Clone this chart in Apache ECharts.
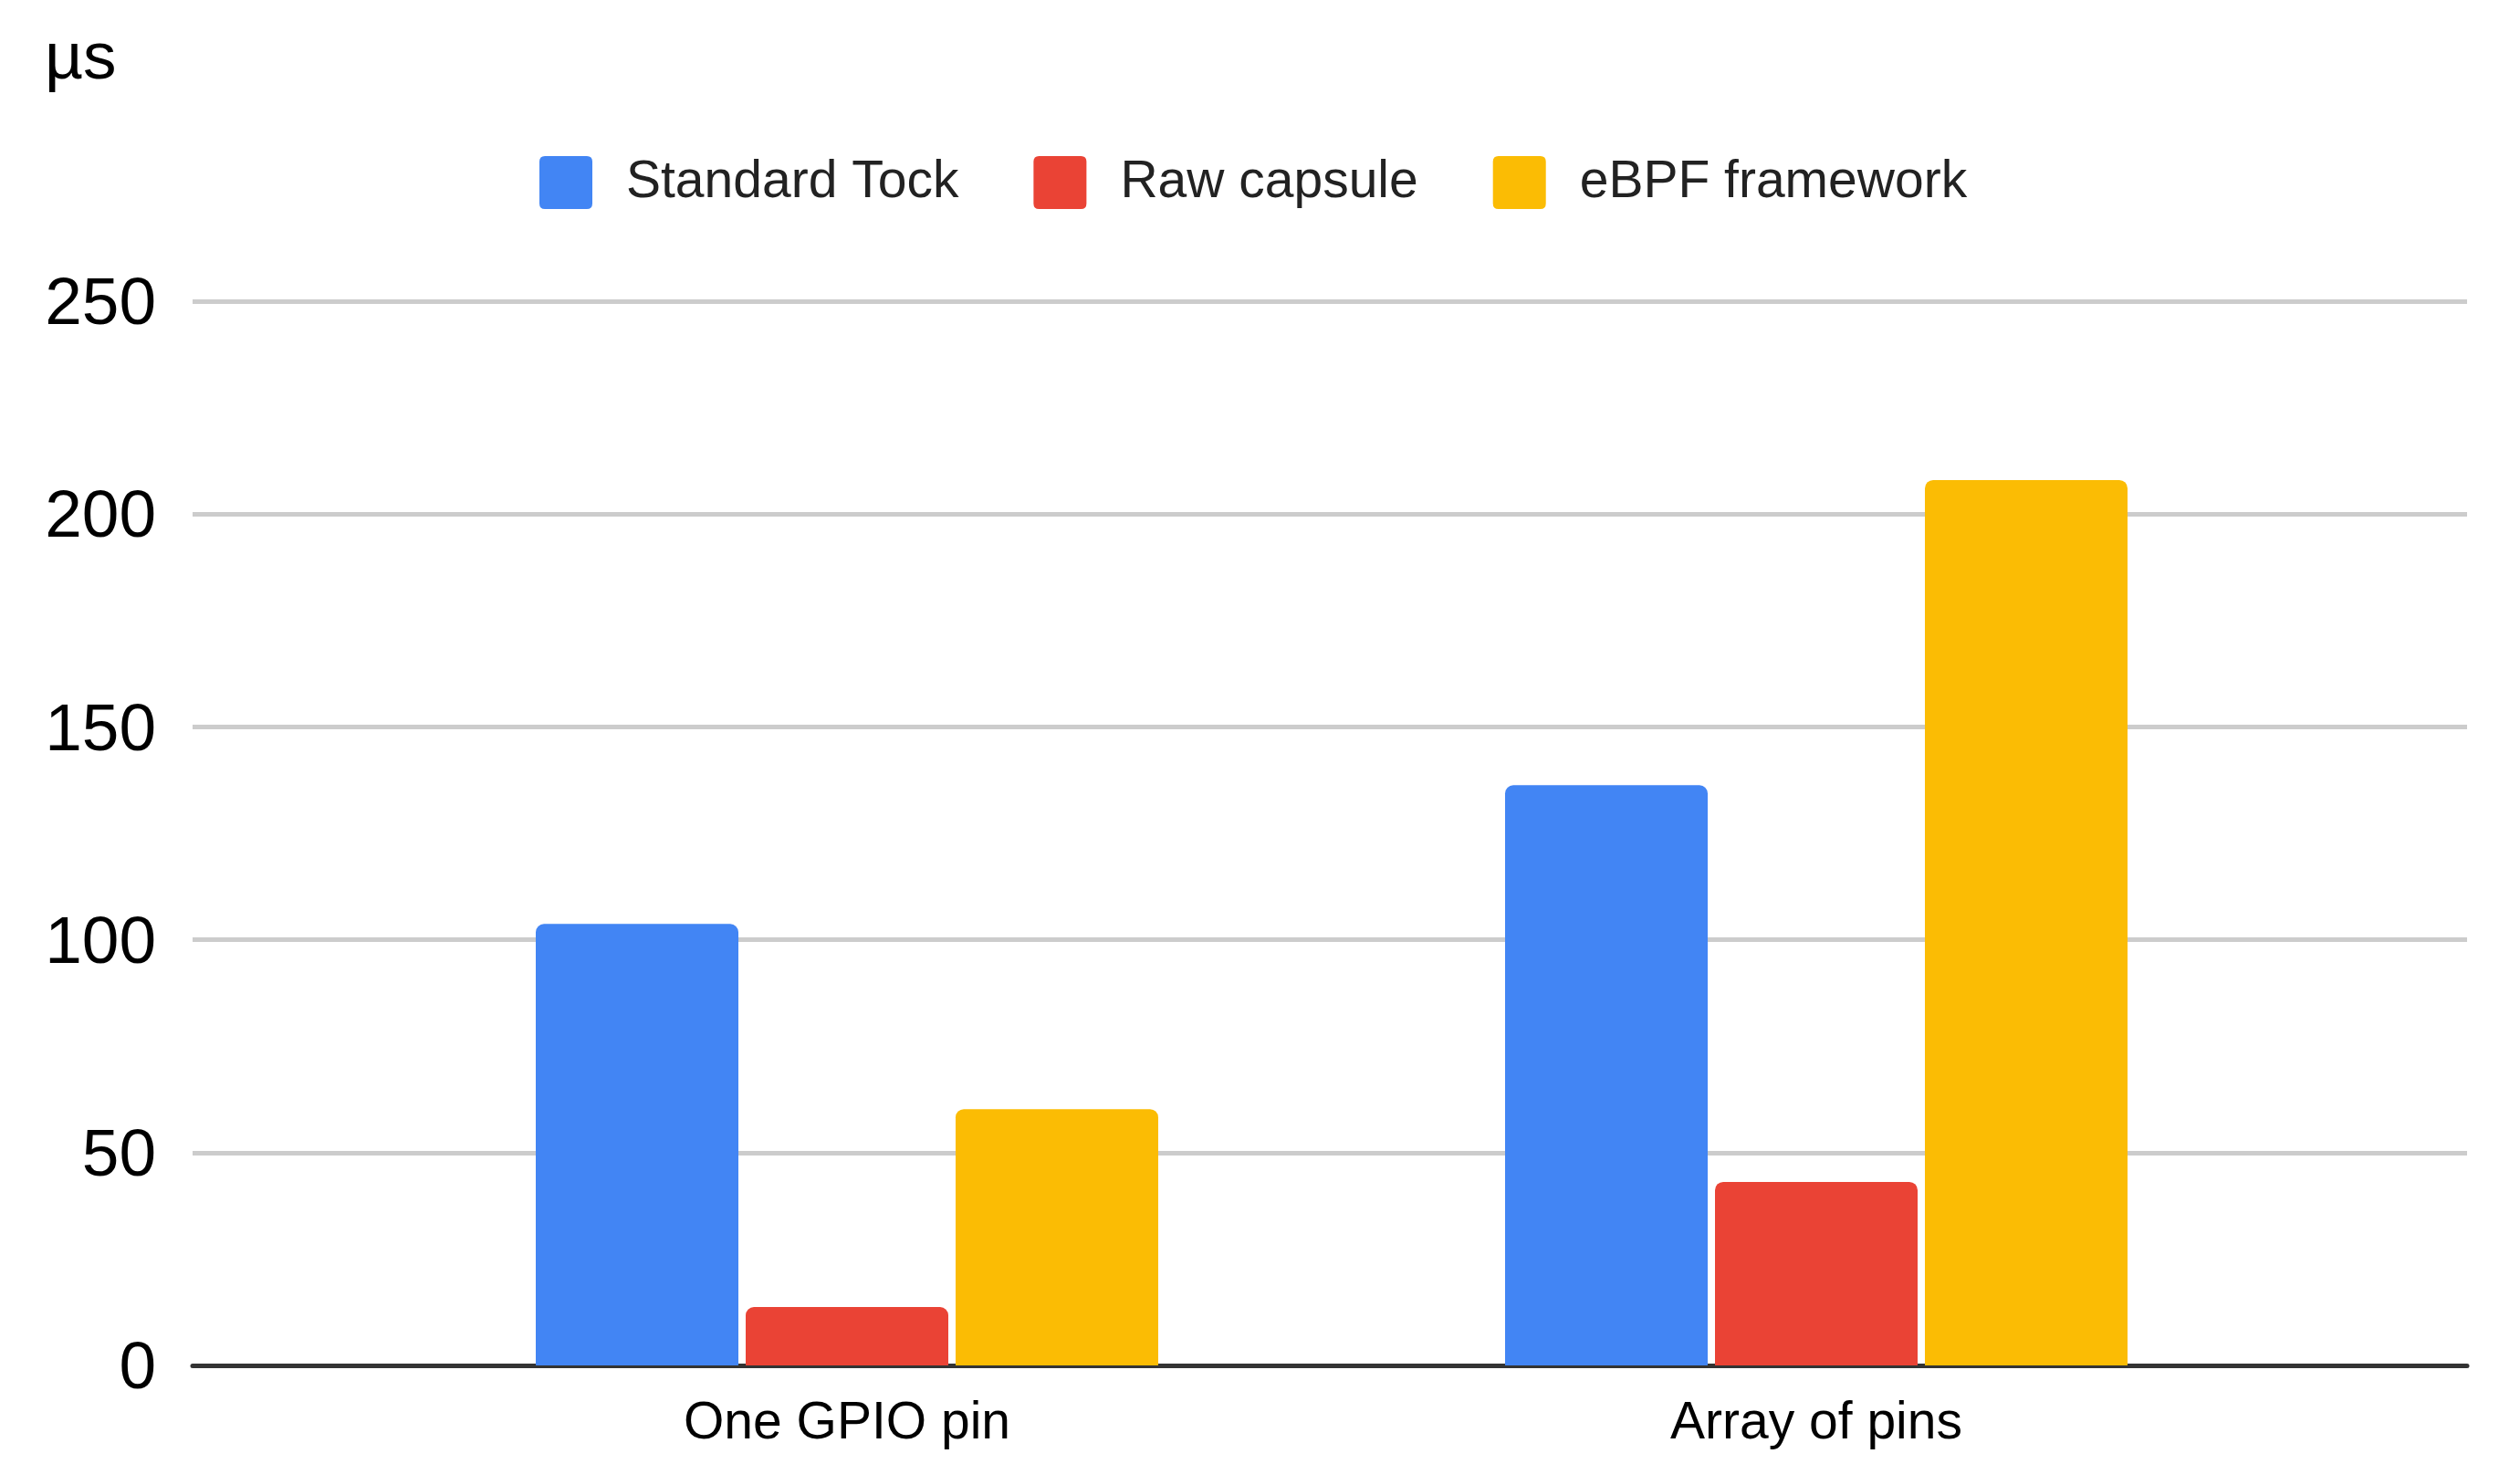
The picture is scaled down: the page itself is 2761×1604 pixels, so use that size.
<!DOCTYPE html>
<html>
<head>
<meta charset="utf-8">
<script src="https://cdn.jsdelivr.net/npm/echarts@6/dist/echarts.min.js"></script>
<style>
html,body{margin:0;padding:0;background:#fff;}
#chart{width:2761px;height:1604px;}
</style>
</head>
<body>
<div id="chart"></div>
<script>
const categories = ['One GPIO pin', 'Array of pins'];
const seriesNames = ['Standard Tock', 'Raw capsule', 'eBPF framework'];
const standardTock = [103.7, 136.3];
const rawCapsule = [13.7, 43.1];
const ebpfFramework = [60.2, 208.0];
const yTicks = [0, 50, 100, 150, 200, 250];
const unitLabel = 'µs';

const FONT = '"Liberation Sans", Arial, sans-serif';
const colors = ['#4285F4', '#EA4335', '#FBBC04'];
const legendIcon = 'path://M6,0 H52 Q58,0 58,6 V52 Q58,58 52,58 H6 Q0,58 0,52 V6 Q0,0 6,0 Z';

const chart = echarts.init(document.getElementById('chart'), null, {renderer: 'canvas'});

const option = {
  animation: false,
  backgroundColor: '#ffffff',
  color: colors,
  textStyle: {fontFamily: FONT},
  graphic: [{
    type: 'text',
    left: 49,
    top: 29,
    style: {text: unitLabel, font: '73px ' + FONT, fill: '#000'}
  }],
  legend: {
    left: 586,
    top: 166,
    itemWidth: 58,
    itemHeight: 58,
    itemGap: 82,
    icon: legendIcon,
    textStyle: {fontSize: 57, color: '#222', fontFamily: FONT, padding: [0, 0, 0, 32]},
    data: seriesNames
  },
  grid: [
    {left: 211, right: 58, top: 330, bottom: 108},
    {left: 397, right: 240, top: 330, bottom: 108}
  ],
  xAxis: [
    {
      gridIndex: 0, type: 'value', min: 0, max: 1,
      axisLine: {show: true, onZero: false, lineStyle: {color: '#333', width: 5}},
      axisTick: {show: false}, axisLabel: {show: false}, splitLine: {show: false}
    },
    {
      gridIndex: 1, type: 'category', data: categories,
      axisLine: {show: false}, axisTick: {show: false}, splitLine: {show: false},
      axisLabel: {fontSize: 57, color: '#000', fontFamily: FONT, margin: 36}
    }
  ],
  yAxis: [
    {
      gridIndex: 0, type: 'value', min: yTicks[0], max: yTicks[yTicks.length - 1], interval: 50,
      axisLine: {show: false}, axisTick: {show: false},
      axisLabel: {
        fontSize: 73, color: '#000', fontFamily: FONT, margin: 40,
        formatter: '{v|{value}}',
        rich: {v: {fontSize: 73, color: '#000', fontFamily: FONT, padding: [10, 0, 0, 0]}}
      },
      splitLine: {show: true, lineStyle: {color: '#cccccc', width: 5}}
    },
    {
      gridIndex: 1, type: 'value', min: yTicks[0], max: yTicks[yTicks.length - 1], interval: 50,
      show: false, splitLine: {show: false}
    }
  ],
  series: [
    {name: seriesNames[0], type: 'bar', xAxisIndex: 1, yAxisIndex: 1, data: standardTock,
     barWidth: 222, barGap: '3.6%', itemStyle: {borderRadius: [9, 9, 0, 0]}},
    {name: seriesNames[1], type: 'bar', xAxisIndex: 1, yAxisIndex: 1, data: rawCapsule,
     barWidth: 222, barGap: '3.6%', itemStyle: {borderRadius: [9, 9, 0, 0]}},
    {name: seriesNames[2], type: 'bar', xAxisIndex: 1, yAxisIndex: 1, data: ebpfFramework,
     barWidth: 222, barGap: '3.6%', itemStyle: {borderRadius: [9, 9, 0, 0]}}
  ]
};
chart.setOption(option);
</script>
</body>
</html>
